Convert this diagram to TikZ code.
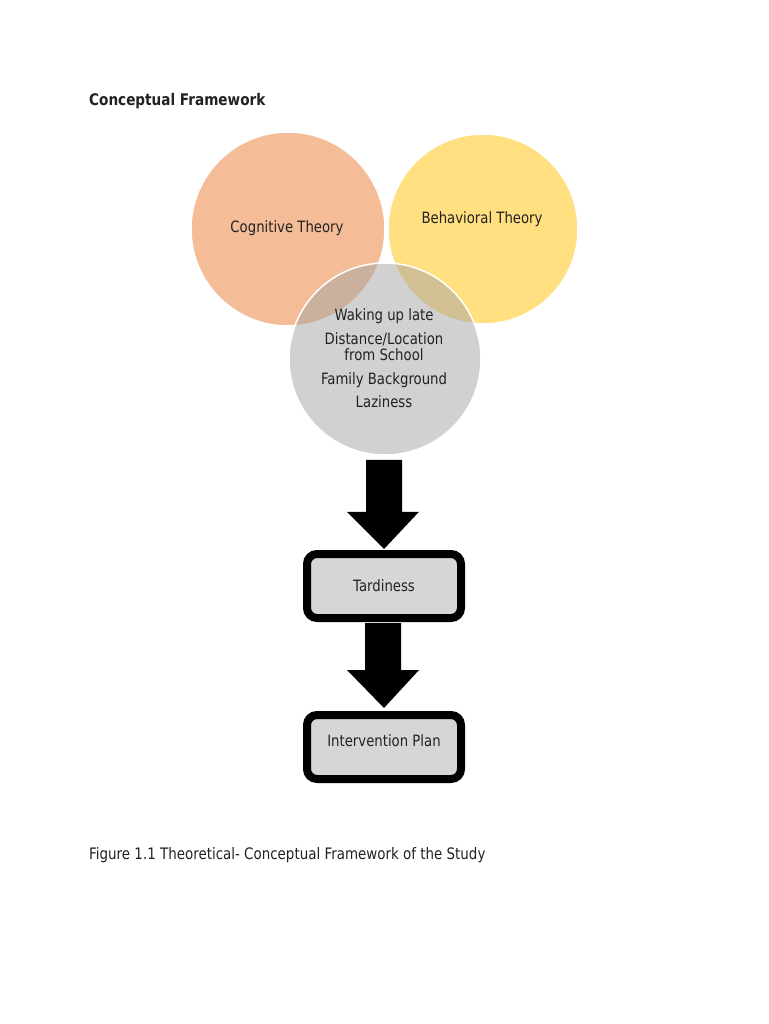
\documentclass[tikz,border=0pt]{standalone}
\usepackage{fontspec}
\setmainfont[FakeStretch=0.85]{DejaVu Sans}
\usetikzlibrary{calc}
\definecolor{cogorange}{HTML}{ED7D31}
\definecolor{behyellow}{HTML}{FFC000}
\definecolor{factgray}{HTML}{A5A5A5}
\definecolor{boxgray}{HTML}{D6D6D6}
\definecolor{txt}{HTML}{222222}
\tikzset{
  venn/.style={circle, draw=white, line width=1.5pt, fill opacity=0.5, text opacity=1, minimum size=#1, inner sep=0pt},
  lbl/.style={font=\fontsize{15.6}{16.5}\selectfont, text=txt, align=center},
  outcome/.style={draw=black, line width=8pt, rounded corners=10pt, fill=boxgray, minimum width=154pt, minimum height=64pt, font=\fontsize{15.6}{16.5}\selectfont, text=txt},
  bigarrow/.style={fill=black},
}
\begin{document}
\begin{tikzpicture}[x=1pt,y=-1pt]
\useasboundingbox (0,0) rectangle (768,1024);
\fill[white] (0,0) rectangle (768,1024);
\node[anchor=west, inner sep=0pt, font=\bfseries\fontsize{16}{17}\selectfont, text=txt] (title) at (89,101) {Conceptual Framework};
\node[venn=194pt, fill=cogorange] (cog) at (288,229) {};
\node[venn=190pt, fill=behyellow] (beh) at (483,229) {};
\node[venn=192pt, fill=factgray] (fact) at (385,359) {};
\node[lbl] (cogt) at (287,228) {Cognitive Theory};
\node[lbl] (beht) at (482,219) {Behavioral Theory};
\node[lbl] (factt) at (384,358) {Waking up late\\[7.5pt]Distance/Location\\from School\\[7.5pt]Family Background\\[6.5pt]Laziness};
\node[outcome] (tard) at (384,586) {Tardiness};
\node[outcome] (plan) at (384,747) {};
\node[lbl] (plant) at (384,741) {Intervention Plan};
% arrow 1
\fill[bigarrow] ($(fact.south)+(-19,4)$) -- ($(fact.south)+(17,4)$) -- ($(fact.south)+(17,56)$) -- ($(fact.south)+(34,56)$)
  -- ($(tard.north)+(0,-1)$) -- ($(fact.south)+(-38,56)$) -- ($(fact.south)+(-19,56)$) -- cycle;
% arrow 2
\fill[bigarrow] ($(tard.south)+(-19,1)$) -- ($(tard.south)+(17,1)$) -- ($(tard.south)+(17,48)$) -- ($(tard.south)+(35,48)$)
  -- ($(plan.north)+(0,-3)$) -- ($(tard.south)+(-37,48)$) -- ($(tard.south)+(-19,48)$) -- cycle;
\node[anchor=west, inner sep=0pt, font=\fontsize{15.8}{16.5}\selectfont, text=txt] (caption) at (89,855) {Figure 1.1 Theoretical- Conceptual Framework of the Study};
\end{tikzpicture}
\end{document}
